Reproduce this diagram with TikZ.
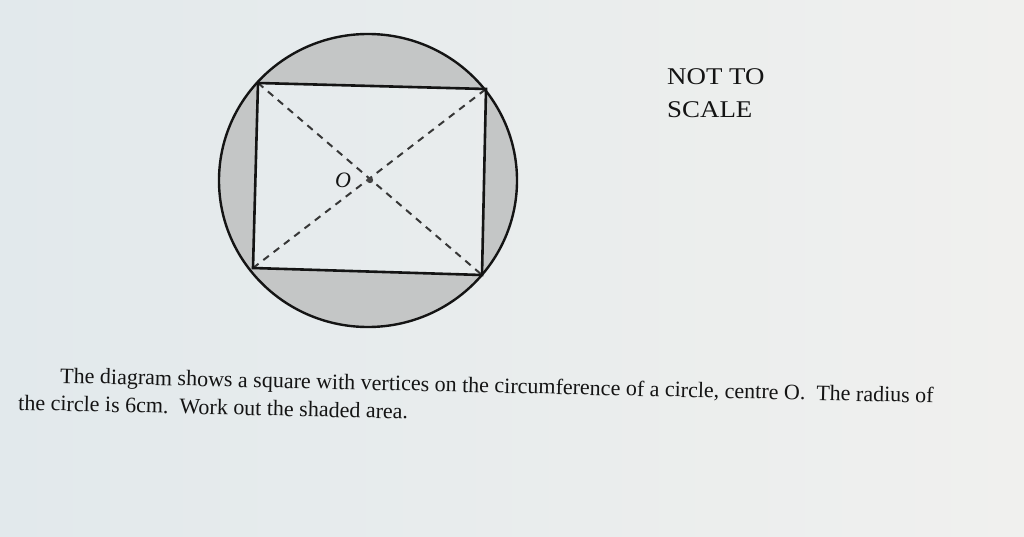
\documentclass[tikz,border=0pt]{standalone}
\usepackage{fontspec}
\setmainfont{Liberation Serif}
\definecolor{bgL}{RGB}{226,233,236}
\definecolor{bgR}{RGB}{240,240,238}
\definecolor{shadegray}{RGB}{196,198,198}
\definecolor{ink}{RGB}{20,20,20}
\tikzset{
  edge/.style={draw=ink, line width=2.6pt, line join=miter},
  diag/.style={draw=ink!85, line width=2pt, dash pattern=on 7pt off 6pt},
  txt/.style={font=\fontsize{22}{25}\selectfont, text=ink, inner sep=0pt, anchor=base west, rotate=-1.3},
  lbl/.style={font=\fontsize{24}{28}\selectfont, text=ink, inner sep=0pt, anchor=base west, xscale=1.12}
}
\begin{document}
\begin{tikzpicture}[x=1pt,y=-1pt]
\useasboundingbox (0,0) rectangle (1024,537);
\shade[left color=bgL, right color=bgR] (0,0) rectangle (1024,537);
\coordinate (O) at (368,180.5);
\coordinate (A) at (258,83);
\coordinate (B) at (486,89);
\coordinate (C) at (482,275);
\coordinate (D) at (253,268);
\coordinate (M) at (370,180);
% shaded region
\fill[shadegray, even odd rule] (O) ellipse [x radius=149, y radius=146.5] (A) -- (B) -- (C) -- (D) -- cycle;
% diagonals
\draw[diag] (A) -- (C);
\draw[diag] (D) -- (B);
% circle and square
\draw[edge, line width=2.4pt] (O) ellipse [x radius=149, y radius=146.5];
\draw[edge] (A) -- (B) -- (C) -- (D) -- cycle;
\fill[ink!80] (M) circle [radius=3.2];
\node[font=\fontsize{22}{24}\selectfont\itshape, text=ink, inner sep=0pt] (lo) at (343,180) {O};
% labels
\node[lbl, transform shape] (n1) at (667,84.5) {NOT TO};
\node[lbl, transform shape] (n2) at (667,118) {SCALE};
\node[txt] (t1) at (60,383) {The diagram shows a square with vertices on the circumference of a circle, centre O.\ \ The radius of};
\node[txt] (t2) at (18,410) {the circle is 6cm.\ \ Work out the shaded area.};
\end{tikzpicture}
\end{document}
